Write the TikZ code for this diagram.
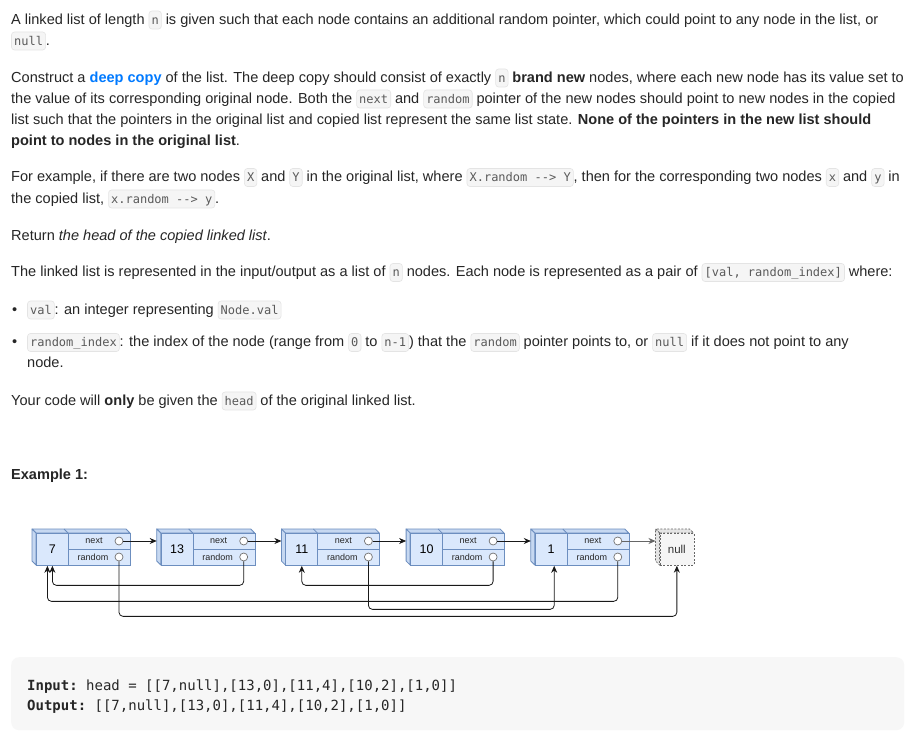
\documentclass[tikz,border=0pt]{standalone}
\usepackage{fontspec}
\setmainfont{Liberation Sans}
\setmonofont{DejaVu Sans Mono}
\usetikzlibrary{arrows.meta,calc}
\definecolor{txt}{HTML}{262626}
\definecolor{linkblue}{HTML}{007AFF}
\definecolor{codebg}{HTML}{F5F5F5}
\definecolor{codeborder}{HTML}{E4E4E4}
\definecolor{codetext}{HTML}{5A5A5A}
\definecolor{blockbg}{HTML}{F7F7F7}
\definecolor{nodefill}{HTML}{DAE8FC}
\definecolor{nodestroke}{HTML}{6C8EBF}
\definecolor{nullfill}{HTML}{F5F5F5}
\definecolor{nullstroke}{HTML}{666666}
\colorlet{cubeside}{nodefill!82!nodestroke}
\colorlet{nullside}{nullfill!88!nullstroke}
\newcommand{\ic}[1]{\tikz[baseline=(icx.base)]\node[icode](icx){#1};}
\tikzset{
  icode/.style={draw=codeborder, fill=codebg, rounded corners=3pt, line width=0.6pt,
    inner xsep=2.6pt, inner ysep=2.5pt, text height=11pt, text depth=2pt,
    text=codetext, font=\ttfamily\fontsize{12}{12}\selectfont},
  para/.style={anchor=base west, inner sep=0pt, text=txt, font=\fontsize{14.55}{17}\selectfont},
  codeline/.style={anchor=base west, inner sep=0pt, text=txt, font=\ttfamily\fontsize{14}{16}\selectfont},
  valcell/.style={draw=nodestroke, fill=nodefill, line width=0.8pt, minimum width=32pt, minimum height=32pt,
    inner sep=0pt, anchor=north west, font=\fontsize{12.5}{14}\selectfont},
  ptrcell/.style={draw=nodestroke, fill=nodefill, line width=0.8pt, minimum width=62pt, minimum height=16pt,
    inner sep=0pt, anchor=north west},
  ptrlabel/.style={inner sep=0pt, font=\fontsize{9}{10}\selectfont, text=black!85},
  ptrdot/.style={circle, draw=black!55, fill=white, line width=0.7pt, minimum size=8pt, inner sep=0pt},
  nextarrow/.style={draw=black!90, line width=0.8pt, -{Stealth[length=7pt,width=6pt]}},
  rarrow/.style={draw=black!90, line width=0.8pt, rounded corners=4pt, -{Stealth[length=7pt,width=6pt]}},
}
\begin{document}
\begin{tikzpicture}[x=1pt,y=-1pt]
\useasboundingbox (0,0) rectangle (919,735);
\fill[white] (0,0) rectangle (919,735);

% ---------- text ----------
\node[para] (l1) at (11,24.5) {A linked list of length \ic{n} is given such that each node contains an additional random pointer, which could point to any node in the list, or};
\node[para] (l2) at (11,45.5) {\ic{null}.};
\node[para] (l3) at (11,82.5) {Construct a \textcolor{linkblue}{\bfseries deep copy} of the list. The deep copy should consist of exactly \ic{n} \textbf{brand new} nodes, where each new node has its value set to};
\node[para] (l4) at (11,103.5) {the value of its corresponding original node. Both the \ic{next} and \ic{random} pointer of the new nodes should point to new nodes in the copied};
\node[para] (l5) at (11,124.5) {list such that the pointers in the original list and copied list represent the same list state. \textbf{None of the pointers in the new list should}};
\node[para] (l6) at (11,145.5) {\textbf{point to nodes in the original list}.};
\node[para] (l7) at (11,182) {For example, if there are two nodes \ic{X} and \ic{Y} in the original list, where \ic{X.random -{}-> Y}, then for the corresponding two nodes \ic{x} and \ic{y} in};
\node[para] (l8) at (11,203.5) {the copied list, \ic{x.random -{}-> y}.};
\node[para] (l9) at (11,240.5) {Return \textit{the head of the copied linked list}.};
\node[para] (l10) at (11,277) {The linked list is represented in the input/output as a list of \ic{n} nodes. Each node is represented as a pair of \ic{[val, random\_index]} where:};
\node[para] (b1) at (12,314.5) {\textbullet};
\node[para] (l11) at (27,314.5) {\ic{val}: an integer representing \ic{Node.val}};
\node[para] (b2) at (12,347) {\textbullet};
\node[para] (l12) at (27,347) {\ic{random\_index}: the index of the node (range from \ic{0} to \ic{n-1}) that the \ic{random} pointer points to, or \ic{null} if it does not point to any};
\node[para] (l13) at (27,367.5) {node.};
\node[para] (l14) at (11,405.5) {Your code will \textbf{only} be given the \ic{head} of the original linked list.};
\node[para] (ex) at (11,479.5) {\textbf{Example 1:}};

% ---------- code block ----------
\node[fill=blockbg, rounded corners=8pt, inner sep=0pt, minimum width=893pt, minimum height=73pt, anchor=north west] (codeblock) at (11,657) {};
\node[codeline] (inp) at (27,690) {\textbf{Input:} head = [[7,null],[13,0],[11,4],[10,2],[1,0]]};
\node[codeline] (outp) at (27,710) {\textbf{Output:} [[7,null],[13,0],[11,4],[10,2],[1,0]]};

% ---------- linked list ----------
\foreach \i/\v in {0/7,1/13,2/11,3/10,4/1}{
  \pgfmathsetmacro\X{36+124.7*\i}
  \filldraw[fill=cubeside, draw=nodestroke, line width=0.8pt, line join=round]
    (\X,533) -- (\X-4,529) -- (\X+90,529) -- (\X+94,533) -- cycle;
  \filldraw[fill=cubeside, draw=nodestroke, line width=0.8pt, line join=round]
    (\X,533) -- (\X-4,529) -- (\X-4,561) -- (\X,565) -- cycle;
  \draw[nodestroke, line width=0.8pt] (\X+32,533) -- (\X+28,529);
  \node[valcell] (v\i) at (\X,533) {\v};
  \node[ptrcell] (n\i) at (\X+32,533) {};
  \node[ptrcell] (r\i) at (\X+32,549) {};
  \node[ptrlabel] (nl\i) at (\X+58,541) {next};
  \node[ptrlabel] (rl\i) at (\X+57,557) {random};
  \node[ptrdot] (cn\i) at (\X+83,541) {};
  \node[ptrdot] (cr\i) at (\X+83,557) {};
  \coordinate (lf\i) at (\X-4,541);
}
% null box
\filldraw[fill=nullside, draw=nullstroke, dash pattern=on 2pt off 1.5pt, line width=0.7pt]
  (659.5,533) -- (655.5,529) -- (689.5,529) -- (693.5,533) -- cycle;
\filldraw[fill=nullside, draw=nullstroke, dash pattern=on 2pt off 1.5pt, line width=0.7pt]
  (659.5,533) -- (655.5,529) -- (655.5,561) -- (659.5,565) -- cycle;
\node[draw=nullstroke, fill=nullfill, dash pattern=on 2pt off 1.5pt, line width=0.7pt, minimum width=34pt,
  minimum height=32pt, inner sep=0pt, anchor=north west, text=black!80, font=\fontsize{11.5}{13}\selectfont] (nullbox) at (659.5,533) {null};
\coordinate (lf5) at (655.5,541);

% next pointers
\draw[nextarrow] (cn0.east) -- (lf1);
\draw[nextarrow] (cn1.east) -- (lf2);
\draw[nextarrow] (cn2.east) -- (lf3);
\draw[nextarrow] (cn3.east) -- (lf4);
\draw[nextarrow, draw=black!60] (cn4.east) -- (lf5);

% random pointers
\draw[rarrow] (cr0.south) -- ++(0,55) -| (nullbox.south);
\draw[rarrow] (cr1.south) -- ++(0,24) -| (v0.south);
\draw[rarrow] (cr2.south) -- ++(0,48) -| ([xshift=3pt]v4.south);
\draw[rarrow] (cr3.south) -- ++(0,24) -| (v2.south);
\draw[rarrow] (cr4.south) -- ++(0,40) -| ([xshift=-5pt]v0.south);
\end{tikzpicture}
\end{document}
